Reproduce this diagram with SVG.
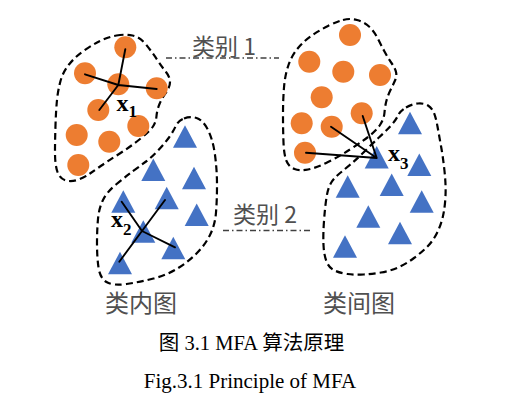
<svg xmlns="http://www.w3.org/2000/svg" xmlns:xlink="http://www.w3.org/1999/xlink" width="516" height="412" viewBox="0 0 516 412">
<style>
.dot{fill:#ED7D31}
.tri{fill:#4472C4}
.hull{fill:none;stroke:#000;stroke-width:2.2;stroke-dasharray:7 4}
.edge{stroke:#000;stroke-width:1.9;fill:none;stroke-linecap:round}
.link{stroke:#404040;stroke-width:1.6;stroke-dasharray:6 3 1.5 3;fill:none}
.cls{font-family:"Noto Sans CJK SC","Liberation Sans",sans-serif;fill:#505050}
.var{font-family:"Liberation Serif",serif;font-weight:bold;fill:#000}
.cap{font-family:"Liberation Serif","Noto Sans CJK SC",serif;fill:#000;text-anchor:middle}
</style>
<defs>
<circle id="c" r="11"/>
<polygon id="t" points="0,-11.5 12,11 -12,11"/>
</defs>
<rect width="516" height="412" fill="#fff"/>

<g id="cluster1">
<path class="hull" d="M 116.5,35.5 Q 125,34 132.5,35.5 Q 140,37 146,44.5 Q 152,52 157,59.5 Q 162,67 166,72 Q 170,77 170,82 Q 170,87 166,92.5 Q 162,98 159.5,104 Q 157,110 156.5,116 Q 156,122 153,126.5 Q 150,131 140,139 Q 130,147 119,154 Q 108,161 101.5,165.5 Q 95,170 90,173.5 Q 85,177 78.5,179.5 Q 72,182 66,180.5 Q 60,179 57.5,172 Q 55,165 55,152.5 Q 55,140 55.5,125 Q 56,110 57,100 Q 58,90 60.5,81 Q 63,72 69,64.5 Q 75,57 83.5,51 Q 92,45 100,41 Q 108,37 116.5,35.5 Z"/>
<use href="#c" class="dot" x="125.3" y="47.3"/>
<use href="#c" class="dot" x="85" y="73.3"/>
<use href="#c" class="dot" x="118.3" y="84.3"/>
<use href="#c" class="dot" x="156.7" y="88.3"/>
<use href="#c" class="dot" x="98.3" y="110"/>
<use href="#c" class="dot" x="138.3" y="126"/>
<use href="#c" class="dot" x="76.7" y="135"/>
<use href="#c" class="dot" x="109.3" y="141.7"/>
<use href="#c" class="dot" x="78.3" y="165"/>
</g>

<g id="cluster2">
<path class="hull" d="M 184,118.5 Q 190,116 196.5,118 Q 203,120 208,130 Q 213,140 215,155 Q 217,170 217,185 Q 217,200 216,212.5 Q 215,225 210,235 Q 205,245 196.5,253.5 Q 188,262 177.5,268.5 Q 167,275 153.5,278.5 Q 140,282 126.5,284 Q 113,286 106.5,282 Q 100,278 98.5,267.5 Q 97,257 97,243.5 Q 97,230 98,219 Q 99,208 103,200 Q 107,192 116,184.5 Q 125,177 132.5,171.5 Q 140,166 146,161.5 Q 152,157 158.5,150 Q 165,143 169,137.5 Q 173,132 175.5,126.5 Q 178,121 184,118.5 Z"/>
<use href="#t" class="tri" x="185" y="136.7"/>
<use href="#t" class="tri" x="153.3" y="170"/>
<use href="#t" class="tri" x="194" y="178.3"/>
<use href="#t" class="tri" x="123.3" y="201.7"/>
<use href="#t" class="tri" x="166.7" y="198.3"/>
<use href="#t" class="tri" x="196.7" y="215"/>
<use href="#t" class="tri" x="143.3" y="231.7"/>
<use href="#t" class="tri" x="173.3" y="248.3"/>
<use href="#t" class="tri" x="120" y="263.3"/>
</g>

<g id="cluster3">
<path class="hull" d="M 343,20 Q 350,18 357,20 Q 364,22 369,26.5 Q 374,31 377.5,38 Q 381,45 384.5,51.5 Q 388,58 391.5,63 Q 395,68 396,72 Q 397,76 395,80.5 Q 393,85 390.5,90 Q 388,95 386.5,100.5 Q 385,106 384.5,112.5 Q 384,119 380,125 Q 376,131 368,137 Q 360,143 350,149.5 Q 340,156 328,162 Q 316,168 308,169.5 Q 300,171 294.5,169 Q 289,167 286.5,161 Q 284,155 283.5,142.5 Q 283,130 283,115 Q 283,100 284,87.5 Q 285,75 288.5,65 Q 292,55 298.5,47.5 Q 305,40 312.5,35 Q 320,30 328,26 Q 336,22 343,20 Z"/>
<use href="#c" class="dot" x="350" y="35"/>
<use href="#c" class="dot" x="309.3" y="61.7"/>
<use href="#c" class="dot" x="343.3" y="71.7"/>
<use href="#c" class="dot" x="380" y="75"/>
<use href="#c" class="dot" x="321.7" y="97.3"/>
<use href="#c" class="dot" x="301.7" y="123.3"/>
<use href="#c" class="dot" x="331.7" y="126.7"/>
<use href="#c" class="dot" x="361.7" y="113.3"/>
<use href="#c" class="dot" x="305" y="152.7"/>
</g>

<g id="cluster4">
<path class="hull" d="M 406,107.5 Q 412,104 418,103.5 Q 424,103 428,105.5 Q 432,108 434,113 Q 436,118 437.5,126.5 Q 439,135 441,146 Q 443,157 444.5,171 Q 446,185 445.5,196 Q 445,207 443,216 Q 441,225 437,233 Q 433,241 427.5,246.5 Q 422,252 414,258 Q 406,264 398,267.5 Q 390,271 381,272.5 Q 372,274 363.5,274.5 Q 355,275 347.5,274 Q 340,273 334.5,270.5 Q 329,268 326.5,261.5 Q 324,255 323.5,245 Q 323,235 324,221 Q 325,207 326.5,197.5 Q 328,188 331,183 Q 334,178 339.5,173.5 Q 345,169 351.5,163.5 Q 358,158 365.5,150.5 Q 373,143 379.5,137 Q 386,131 391,125.5 Q 396,120 398,115.5 Q 400,111 406,107.5 Z"/>
<use href="#t" class="tri" x="410" y="123.3"/>
<use href="#t" class="tri" x="376.7" y="157.4"/>
<use href="#t" class="tri" x="419.3" y="165"/>
<use href="#t" class="tri" x="347.7" y="186.7"/>
<use href="#t" class="tri" x="391.7" y="185"/>
<use href="#t" class="tri" x="421.7" y="201.7"/>
<use href="#t" class="tri" x="368.3" y="216.7"/>
<use href="#t" class="tri" x="400" y="233.3"/>
<use href="#t" class="tri" x="345" y="246.7"/>
</g>

<g id="connectors">
<path class="edge" d="M 118.3,85 L 125.3,49.3 M 118.3,85 L 85,74.3 M 118.3,85 L 156.7,89 M 118.3,85 L 99.3,110"/>
<path class="edge" d="M 142,231 L 121.7,201.7 M 142,231 L 175,247.3 M 142,231 L 165,200 M 142,231 L 119.3,261.7"/>
<path class="edge" d="M 376.7,158 L 362.7,116 M 376.7,158 L 331,126.7 M 376.7,158 L 306,152.7"/>
<path class="link" d="M 166,58 L 279,58"/>
<path class="link" d="M 223,230.5 L 311,230.5"/>
</g>

<g id="labels">
<text class="var" x="116.5" y="111" font-size="24">x<tspan font-size="17" dy="6">1</tspan></text>
<text class="var" x="111" y="227" font-size="24">x<tspan font-size="17" dy="8">2</tspan></text>
<text class="var" x="388" y="161" font-size="24">x<tspan font-size="17" dy="8">3</tspan></text>
<text class="cls" x="192" y="55" font-size="23">类别 1</text>
<text class="cls" x="233" y="223" font-size="23">类别 2</text>
<text class="cls" x="105" y="312" font-size="24">类内图</text>
<text class="cls" x="323" y="312" font-size="24">类间图</text>
<text class="cap" x="251.5" y="349.5" font-size="20.5">图 3.1 MFA 算法原理</text>
<text class="cap" x="250" y="388" font-size="21">Fig.3.1 Principle of MFA</text>
</g>
</svg>
